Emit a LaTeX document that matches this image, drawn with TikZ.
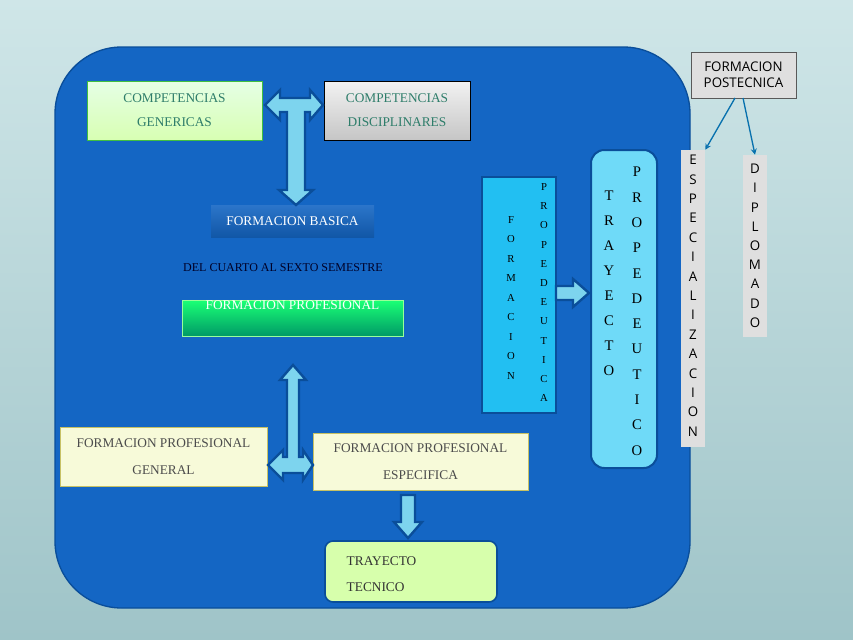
\documentclass[tikz,border=0pt]{standalone}
\usepackage{fontspec}
\setmainfont{Liberation Serif}
\newfontfamily\sansf{Open Sans}
\usetikzlibrary{shapes.arrows}
\definecolor{bgA}{HTML}{CFE6E8}
\definecolor{bgB}{HTML}{9FC4C8}
\definecolor{bigblue}{HTML}{1466C4}
\definecolor{arrfill}{HTML}{7DD4EE}
\definecolor{arrline}{HTML}{0A4E9A}
\definecolor{txtgreen}{HTML}{2E7D6A}
\definecolor{propc}{HTML}{22BFF2}
\definecolor{trayc}{HTML}{6FDAF8}
\begin{document}
\begin{tikzpicture}[x=0.75pt,y=-0.75pt,
  lbl/.style={font=\fontsize{10}{12}\selectfont,align=center},
  arr/.style={fill=arrfill,draw=arrline,line width=1.8pt,line join=miter},
  let/.style={font=\fontsize{8}{9}\selectfont},
  bigl/.style={font=\fontsize{11}{12}\selectfont},
  sl/.style={font=\sansf\fontsize{10}{12}\selectfont}]
\useasboundingbox (0,0) rectangle (853,639);
\shade[top color=bgA,bottom color=bgB] (0,0) rectangle (853,639);
\node[fill=bigblue,draw=arrline,line width=1pt,rounded corners=50pt,minimum width=635*0.75pt,minimum height=561*0.75pt,inner sep=0pt] (main) at (372.5,327.5) {};
% top boxes
\node[shade,top color=green!10,bottom color=green!35!lime!30,draw=green!50!gray,minimum width=175*0.75pt,minimum height=59*0.75pt,inner sep=0pt,lbl,text=txtgreen] (gen) at (174.5,110.5) {COMPETENCIAS\\[6pt]GENERICAS};
\node[shade,top color=gray!10,bottom color=gray!45,draw=black,minimum width=146*0.75pt,minimum height=59*0.75pt,inner sep=0pt,lbl,text=txtgreen] (dis) at (397,110.5) {COMPETENCIAS\\[6pt]DISCIPLINARES};
\node[shade,top color=bigblue!90!white,bottom color=bigblue!85!black,minimum width=163*0.75pt,minimum height=32*0.75pt,inner sep=0pt,lbl,text=white] (bas) at (292.5,221) {FORMACION BASICA};
\node[lbl,text=black!85!blue,font=\fontsize{9}{10}\selectfont] (sem) at (283,268) {DEL CUARTO AL SEXTO SEMESTRE};
\node[shade,top color=green!60!cyan!90,bottom color=teal!80!green,draw=green!40!white,minimum width=221*0.75pt,minimum height=33*0.75pt,inner sep=0pt,lbl,text=white] (pro) at (292.5,318.5) {FORMACION PROFESIONAL\\[8pt]};
\node[fill=yellow!12!lime!15!white,draw=yellow!50!gray,minimum width=207*0.75pt,minimum height=59*0.75pt,inner sep=0pt,lbl,text=black!70] (fpg) at (163.5,456.5) {FORMACION PROFESIONAL\\[8pt]GENERAL};
\node[fill=yellow!12!lime!15!white,draw=yellow!50!gray,minimum width=215*0.75pt,minimum height=57*0.75pt,inner sep=0pt,lbl,text=black!70] (fpe) at (420.5,461.5) {FORMACION PROFESIONAL\\[8pt]ESPECIFICA};
\node[fill=lime!25!white!90!green,draw=arrline,line width=1.2pt,rounded corners=6pt,minimum width=172*0.75pt,minimum height=61*0.75pt,inner sep=0pt] (tt) at (411,571.5) {};
\node[lbl,text=black!80,align=left,anchor=west] (ttl) at (342,574) {TRAYECTO\\[8pt]TECNICO};
% propedeutica
\node[fill=propc,draw=arrline,line width=1.5pt,minimum width=74*0.75pt,minimum height=236*0.75pt,inner sep=0pt] (fp) at (519,295) {};
\foreach \c [count=\i] in {F,O,R,M,A,C,I,O,N} \node[let] at (511,{220+(\i-1)*19.5}) {\c};
\foreach \c [count=\i] in {P,R,O,P,E,D,E,U,T,I,C,A} \node[let] at (544,{187+(\i-1)*19.2}) {\c};
\node[fill=trayc,draw=arrline,line width=1.5pt,rounded corners=10pt,minimum width=66*0.75pt,minimum height=318*0.75pt,inner sep=0pt] (tp) at (624,309) {};
\foreach \c [count=\i] in {T,R,A,Y,E,C,T,O} \node[bigl] at (609,{196+(\i-1)*25}) {\c};
\foreach \c [count=\i] in {P,R,O,P,E,D,E,U,T,I,C,O} \node[bigl] at (637,{172+(\i-1)*25.3}) {\c};
% right side
\node[fill=gray!25,draw=gray!70!black,minimum width=105*0.75pt,minimum height=46*0.75pt,inner sep=0pt,sl,align=center] (post) at (743.5,75) {FORMACION\\POSTECNICA};
\node[fill=gray!25,minimum width=24*0.75pt,minimum height=297*0.75pt,inner sep=0pt] (esp) at (693,298.5) {};
\foreach \c [count=\i] in {E,S,P,E,C,I,A,L,I,Z,A,C,I,O,N} \node[sl] at (693,{160+(\i-1)*19.4}) {\c};
\node[fill=gray!25,minimum width=24*0.75pt,minimum height=182*0.75pt,inner sep=0pt] (dip) at (755,246) {};
\foreach \c [count=\i] in {D,I,P,L,O,M,A,D,O} \node[sl] at (755,{169+(\i-1)*19.2}) {\c};
\coordinate (pa) at (735,98); \coordinate (pb) at (743,98);
\draw[-stealth,arrline!80!cyan,line width=1pt] (pa) -- (esp.north east);
\draw[-stealth,arrline!80!cyan,line width=1pt] (pb) -- (dip.north);
% T arrow
\draw[arr] (265,105) -- (280,90) -- (280,98) -- (310,98) -- (310,90) -- (323,105) -- (310,120) -- (310,112) -- (305,112) -- (305,190) -- (313,190) -- (296,205) -- (279,190) -- (287,190) -- (287,112) -- (280,112) -- (280,120) -- cycle;
% lower cross arrow
\draw[arr] (293,365) -- (306,380) -- (299,380) -- (299,457) -- (303,457) -- (303,450) -- (313,465) -- (303,480) -- (303,473) -- (283,473) -- (283,480) -- (268,465) -- (283,450) -- (283,457) -- (287,457) -- (287,380) -- (280,380) -- cycle;
% down arrow
\draw[arr] (401,495) -- (415,495) -- (415,522) -- (422,522) -- (408,538) -- (394,522) -- (401,522) -- cycle;
% right arrow
\draw[arr] (556,286) -- (573,286) -- (573,279) -- (589,293) -- (573,307) -- (573,300) -- (556,300) -- cycle;
\end{tikzpicture}
\end{document}
